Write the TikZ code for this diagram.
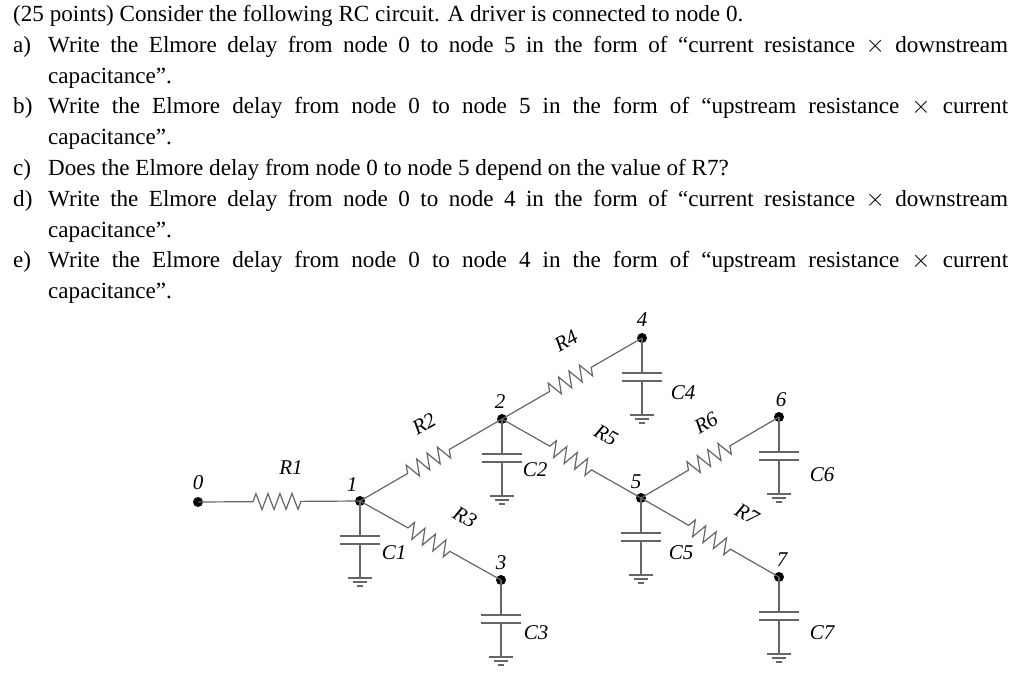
\documentclass[tikz,border=0pt]{standalone}
\usepackage{fontspec}
\setmainfont{Liberation Serif}
\usetikzlibrary{calc,decorations.pathmorphing}
\hyphenpenalty=10000
\exhyphenpenalty=10000
\newcommand\nsqz{\spaceskip=0.25em plus 0.6em\relax}
\begin{document}
\begin{tikzpicture}[x=1pt,y=-1pt,
  txt/.style={anchor=north west,inner sep=0pt,font=\fontsize{23.1}{31}\selectfont\nsqz,align=justify,text width=960pt},
  lbl/.style={anchor=north west,inner sep=0pt,font=\fontsize{23.1}{31}\selectfont},
  dot/.style={circle,fill=black,inner sep=0pt,minimum size=10pt},
  wire/.style={draw=black!60,line width=1.2pt},
  res/.style={wire,decorate,decoration={zigzag,amplitude=8pt,segment length=12pt,pre length=#1,post length=#1}},
  lab/.style={font=\itshape\fontsize{21}{21}\selectfont,inner sep=0pt}]
\useasboundingbox (0,0) rectangle (1024,688);
% text
\node[lbl] (t0) at (13,5) {(25 points) Consider the following RC circuit. A driver is connected to node 0.};
\node[lbl] (la) at (13,36) {a)};
\node[txt] (ta) at (48,36) {Write the Elmore delay from node 0 to node 5 in the form of “current resistance $\times$ downstream capacitance”.};
\node[lbl] (lb) at (13,97) {b)};
\node[txt] (tb) at (48,97) {Write the Elmore delay from node 0 to node 5 in the form of “upstream resistance $\times$ current capacitance”.};
\node[lbl] (lc) at (13,159) {c)};
\node[txt] (tc) at (48,159) {Does the Elmore delay from node 0 to node 5 depend on the value of R7?};
\node[lbl] (ld) at (13,190) {d)};
\node[txt] (td) at (48,190) {Write the Elmore delay from node 0 to node 4 in the form of “current resistance $\times$ downstream capacitance”.};
\node[lbl] (le) at (13,251) {e)};
\node[txt] (te) at (48,251) {Write the Elmore delay from node 0 to node 4 in the form of “upstream resistance $\times$ current capacitance”.};
% nodes
\node[dot] (n0) at (198,502) {};
\node[dot] (n1) at (360,501) {};
\node[dot] (n2) at (502,419) {};
\node[dot] (n3) at (501,580) {};
\node[dot] (n4) at (642,338) {};
\node[dot] (n5) at (641,498) {};
\node[dot] (n6) at (779,417) {};
\node[dot] (n7) at (779,577) {};
% resistors
\draw[res=55pt] (n0.center) -- (n1.center);
\draw[res=55pt] (n1.center) -- (n2.center);
\draw[res=55pt] (n1.center) -- (n3.center);
\draw[res=55pt] (n2.center) -- (n4.center);
\draw[res=55pt] (n2.center) -- (n5.center);
\draw[res=55pt] (n5.center) -- (n6.center);
\draw[res=55pt] (n5.center) -- (n7.center);
% capacitors
\foreach \n in {n1,n2,n3,n4,n5,n6,n7}{
  \draw[wire] (\n.center) -- ++(0,35) ++(-20,0) -- ++(40,0);
  \draw[wire] ($(\n.center)+(-20,43)$) -- ++(40,0) ++(-20,0) -- ++(0,34)
     ++(-12,0) -- ++(24,0) ++(-19,4) -- ++(14,0) ++(-10,4) -- ++(6,0);
}
% node labels
\foreach \n/\t/\x/\y in {n0/0/198/483,n1/1/352/485,n2/2/500/402,n3/3/501/563,n4/4/642/320,n5/5/636/482,n6/6/781/400,n7/7/782/560}
  \node[lab] (l\n) at (\x,\y) {\t};
% resistor labels
\node[lab] (lr1) at (291,468) {R1};
\node[lab,rotate=30] (lr2) at (424,424) {R2};
\node[lab,rotate=-30] (lr3) at (465,517) {R3};
\node[lab,rotate=30] (lr4) at (566,341) {R4};
\node[lab,rotate=-30] (lr5) at (606,435) {R5};
\node[lab,rotate=30] (lr6) at (706,423) {R6};
\node[lab,rotate=-30] (lr7) at (747,514) {R7};
% capacitor labels
\foreach \t/\x/\y in {C1/394/553,C2/535/470,C3/536/633,C4/683/393,C5/681/553,C6/822/475,C7/822/633}
  \node[lab] (l\t) at (\x,\y) {\t};
\end{tikzpicture}
\end{document}
